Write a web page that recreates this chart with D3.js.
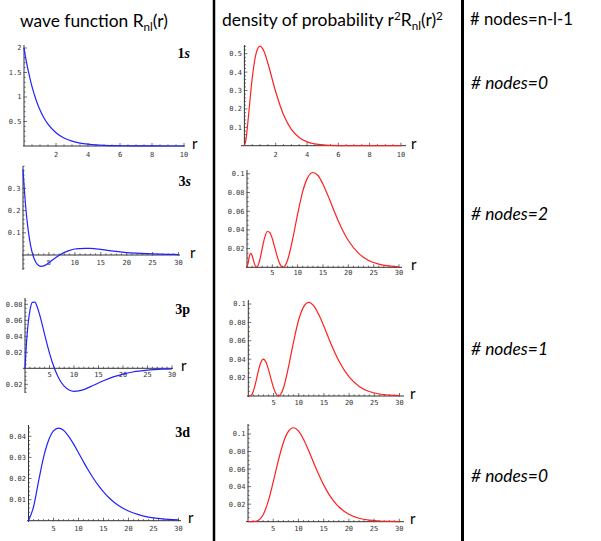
<!DOCTYPE html>
<html><head><meta charset="utf-8">
<script src="https://cdn.jsdelivr.net/npm/d3@7"></script>
<style>body{margin:0;background:#fff;} svg{display:block}</style>
</head><body><svg id="c" width="601" height="541"></svg>
<script>
// ---------- data ----------
const rWave1s = [0,0.1,0.25,0.5,0.75,1,1.25,1.5,2,2.5,3,3.5,4,4.5,5,6,7,8,10];
const wave1s  = [2,1.81,1.558,1.213,0.945,0.736,0.573,0.446,0.271,0.164,0.100,0.060,0.037,0.022,0.013,0.005,0.002,0.001,0];
const rDens1s = [0,0.1,0.25,0.5,0.75,1,1.25,1.5,2,2.5,3,3.5,4,4.5,5,6,7,8,10];
const dens1s  = [0,0.033,0.152,0.368,0.502,0.541,0.513,0.448,0.293,0.168,0.089,0.045,0.021,0.010,0.0045,0.0009,0.0002,0,0];

const rWave3s = [0,0.25,0.5,1,1.5,2,2.5,3,3.5,4,5,6,7,8,9,10,11,12,13,14,16,18,20,22,25,28,30];
const wave3s  = [0.385,0.297,0.223,0.112,0.039,-0.007,-0.034,-0.047,-0.051,-0.049,-0.035,-0.017,-0.001,0.012,0.021,0.027,0.029,0.030,0.030,0.028,0.022,0.016,0.011,0.008,0.005,0.003,0.002];
const rDens3s = [0,0.25,0.5,0.75,1,1.25,1.5,1.9,2.5,3,3.5,4,4.5,5,5.5,6,6.5,7.1,7.5,8,9,10,11,12,13,14,15,16,17,18,19,20,22,24,26,28,30];
const dens3s  = [0,0.0055,0.0125,0.0148,0.0126,0.0080,0.0034,0,0.0073,0.0201,0.0320,0.0383,0.0373,0.0306,0.0208,0.0109,0.0034,0,0.0016,0.0076,0.0299,0.0571,0.0812,0.0962,0.1014,0.0982,0.0889,0.0764,0.0629,0.0498,0.0383,0.0287,0.0151,0.0073,0.0034,0.0015,0.0006];

const rWave3p = [0,0.25,0.5,1,1.5,2,2.5,3,4,5,6,7,8,9,10,11,12,14,16,18,20,22,25,28,30];
const wave3p  = [0,0.0267,0.0469,0.0722,0.0825,0.0828,0.0767,0.0668,0.0425,0.0190,0,-0.0137,-0.0224,-0.0271,-0.0288,-0.0283,-0.0266,-0.0212,-0.0156,-0.0108,-0.0072,-0.0046,-0.0023,-0.0011,-0.0007];
const rDens3p = [0,0.5,1,1.5,2,2.5,3,3.5,4,4.5,5,5.5,6,6.5,7,8,9,10,11,12,13,14,15,16,17,18,20,22,24,26,28,30];
const dens3p  = [0,0.0006,0.0052,0.0153,0.0274,0.0367,0.0401,0.0370,0.0289,0.0187,0.0091,0.0024,0,0.0024,0.0092,0.0322,0.0595,0.0829,0.0972,0.1018,0.0979,0.0882,0.0757,0.0621,0.0492,0.0378,0.0207,0.0104,0.0049,0.0022,0.0010,0.0004];

const rWave3d = [0,1,2,3,4,5,6,7,8,9,10,11,12,13,14,15,16,17,18,20,22,24,26,28,30];
const wave3d  = [0,0.0065,0.0185,0.0299,0.0380,0.0426,0.0439,0.0429,0.0401,0.0364,0.0322,0.0279,0.0238,0.0200,0.0166,0.0137,0.0111,0.0090,0.0072,0.0046,0.0029,0.0017,0.0011,0.0006,0.0004];
const rDens3d = [0,1,2,3,4,5,6,7,8,9,10,11,12,13,14,15,16,17,18,20,22,24,26,28,30];
const dens3d  = [0,0.00004,0.0014,0.0080,0.0231,0.0453,0.0694,0.0900,0.1029,0.1071,0.1036,0.0940,0.0814,0.0675,0.0541,0.0420,0.0318,0.0235,0.0170,0.0084,0.0039,0.0017,0.0008,0.0003,0.0001];

// tick labels
const xTicks10 = [2,4,6,8,10];
const xTicks30 = [5,10,15,20,25,30];
const yTicksW1s = [0.5,1,1.5,2];       const yLabW1s = ["0.5","1","1.5","2"];
const yTicksW3s = [0.1,0.2,0.3];       const yLabW3s = ["0.1","0.2","0.3"];
const yTicksW3p = [-0.02,0.02,0.04,0.06,0.08]; const yLabW3p = ["0.02","0.02","0.04","0.06","0.08"];
const yTicksW3d = [0.01,0.02,0.03,0.04]; const yLabW3d = ["0.01","0.02","0.03","0.04"];
const yTicksD1s = [0.1,0.2,0.3,0.4,0.5]; const yLabD1s = ["0.1","0.2","0.3","0.4","0.5"];
const yTicksD3 = [0.02,0.04,0.06,0.08,0.1]; const yLabD3 = ["0.02","0.04","0.06","0.08","0.1"];

const orbitals = ["1s","3s","3p","3d"];
const headers = ["wave function", "density of probability", "# nodes=n-l-1"];
const nodeLabels = ["# nodes=0","# nodes=2","# nodes=1","# nodes=0"];

// ---------- layout ----------
const BLUE = "#2222ff", RED = "#ff1f1f";
const panels = [
 {r:rWave1s,v:wave1s,c:BLUE,xd:[0,10],xr:[24,184],yd:[0,2],yr:[146,48],yTop:45,yBot:146,xL:23,xR:185,xt:xTicks10,xmin:0.5,yt:yTicksW1s,yl:yLabW1s,ymin:0.1,rl:[192,149],xly:155,name:orbitals[0],np:[190,58],ital:true},
 {r:rWave3s,v:wave3s,c:BLUE,xd:[0,30],xr:[23,178.5],yd:[0,0.3],yr:[255,188.4],yTop:166,yBot:270,xL:22,xR:180,xt:xTicks30,xmin:1,yt:yTicksW3s,yl:yLabW3s,ymin:0.02,rl:[190,258],xly:263,name:orbitals[1],np:[191,186],ital:true},
 {r:rWave3p,v:wave3p,c:BLUE,xd:[0,30],xr:[25,172],yd:[0,0.08],yr:[368.3,304.3],yTop:298,yBot:393,xL:23,xR:173,xt:xTicks30,xmin:1,yt:yTicksW3p,yl:yLabW3p,ymin:0.005,rl:[181,371],xly:375,name:orbitals[2],np:[190,314],ital:false},
 {r:rWave3d,v:wave3d,c:BLUE,xd:[0,30],xr:[28.5,178.5],yd:[0,0.04],yr:[520.7,436.3],yTop:425,yBot:522,xL:27,xR:181,xt:xTicks30,xmin:1,yt:yTicksW3d,yl:yLabW3d,ymin:0.002,rl:[188,523],xly:529,name:orbitals[3],np:[190,437],ital:false},
 {r:rDens1s,v:dens1s,c:RED,xd:[0,10],xr:[244.4,400.9],yd:[0,0.5],yr:[145.7,53.7],yTop:45,yBot:146,xL:241,xR:406,xt:xTicks10,xmin:0.5,yt:yTicksD1s,yl:yLabD1s,ymin:0.02,rl:[411,149],xly:155},
 {r:rDens3s,v:dens3s,c:RED,xd:[0,30],xr:[247,399],yd:[0,0.1],yr:[267.3,173.8],yTop:170,yBot:268,xL:246,xR:402,xt:xTicks30,xmin:1,yt:yTicksD3,yl:yLabD3,ymin:0.005,rl:[411,270],xly:273},
 {r:rDens3p,v:dens3p,c:RED,xd:[0,30],xr:[248.3,399.5],yd:[0,0.1],yr:[396,304],yTop:300,yBot:397,xL:247,xR:404,xt:xTicks30,xmin:1,yt:yTicksD3,yl:yLabD3,ymin:0.005,rl:[410,399],xly:403},
 {r:rDens3d,v:dens3d,c:RED,xd:[0,30],xr:[248,399.3],yd:[0,0.1],yr:[521.7,434],yTop:424,yBot:522,xL:246,xR:404,xt:xTicks30,xmin:1,yt:yTicksD3,yl:yLabD3,ymin:0.005,rl:[410,524],xly:529}
];

const svg = d3.select("#c");
svg.append("rect").attr("width",601).attr("height",541).attr("fill","#fff");

panels.forEach(p => {
  const x = d3.scaleLinear().domain(p.xd).range(p.xr);
  const y = d3.scaleLinear().domain(p.yd).range(p.yr);
  const g = svg.append("g");
  const ax0 = x(0), ay0 = y(0);
  const ax = "#333";
  g.append("line").attr("x1",p.xL).attr("x2",p.xR).attr("y1",ay0).attr("y2",ay0).attr("stroke",ax).attr("stroke-width",1);
  g.append("line").attr("x1",ax0).attr("x2",ax0).attr("y1",p.yTop).attr("y2",p.yBot).attr("stroke",ax).attr("stroke-width",1);
  const xMax = x.invert(p.xR);
  d3.range(p.xmin, xMax, p.xmin).forEach(t => {
    const major = p.xt.some(m => Math.abs(m - t) < 1e-6);
    g.append("line").attr("x1",x(t)).attr("x2",x(t)).attr("y1",ay0+(major?0.5:0)).attr("y2",ay0-(major?3:1.6)).attr("stroke",ax).attr("stroke-width",0.7);
  });
  p.xt.forEach(t => {
    g.append("text").attr("x",x(t)).attr("y",p.xly).attr("dy","0.35em").attr("text-anchor","middle")
     .attr("font-family","DejaVu Sans Mono").attr("font-size",7).attr("fill","#333").text(String(t));
  });
  const yHi = y.invert(p.yTop), yLo = y.invert(p.yBot);
  const ys = [];
  for (let t = p.ymin; t <= yHi + 1e-9; t += p.ymin) ys.push(t);
  for (let t = -p.ymin; t >= yLo - 1e-9; t -= p.ymin) ys.push(t);
  ys.forEach(t => {
    const major = p.yt.some(m => Math.abs(m - t) < p.ymin*0.1);
    g.append("line").attr("x1",ax0-(major?0.5:0)).attr("x2",ax0+(major?3:1.6)).attr("y1",y(t)).attr("y2",y(t)).attr("stroke",ax).attr("stroke-width",0.7);
  });
  p.yt.forEach((t,i) => {
    g.append("text").attr("x",ax0-2.5).attr("y",y(t)).attr("dy","0.35em").attr("text-anchor","end")
     .attr("font-family","DejaVu Sans Mono").attr("font-size",7).attr("fill","#333").text(p.yl[i]);
  });
  const pts = p.r.map((rv,i) => [rv, p.v[i]]);
  const line = d3.line().x(d => x(d[0])).y(d => y(d[1])).curve(d3.curveMonotoneX);
  g.append("path").datum(pts).attr("d",line).attr("fill","none").attr("stroke",p.c).attr("stroke-width",1.2);
  g.append("text").attr("x",p.rl[0]).attr("y",p.rl[1]).attr("font-family","Lato").attr("font-size",15).attr("fill","#000").text("r");
  if (p.name) {
    const t = g.append("text").attr("x",p.np[0]).attr("y",p.np[1]).attr("text-anchor","end")
      .attr("font-family","Liberation Serif").attr("font-weight","bold").attr("font-size",14).attr("fill","#000");
    t.append("tspan").text(p.name[0]);
    t.append("tspan").attr("font-style",p.ital?"italic":"normal").text(p.name.slice(1));
  }
});

// headers: built in a group, then squeezed horizontally to the reference width
const F = "Lato";
function fitGroup(g, x, y, w) {
  const bb = g.node().getBBox();
  g.attr("transform", `translate(${x},${y}) scale(${w / bb.width},1)`);
}
function header(parts, x, y, w, italic) {
  const g = svg.append("g");
  const t = g.append("text").attr("x",0).attr("y",0).attr("font-family",F).attr("font-size",18).attr("fill","#000");
  if (italic) t.attr("font-style","italic");
  parts.forEach(pt => {
    const s = t.append("tspan").text(pt.t);
    if (pt.sz) s.attr("font-size", pt.sz);
    if (pt.dy) s.attr("dy", pt.dy);
  });
  fitGroup(g, x, y, w);
}
header([{t:headers[0] + " R"},{t:"nl",sz:12,dy:4},{t:"(r)",dy:-4}], 20, 27, 148);
header([{t:headers[1] + " r"},{t:"2",sz:12,dy:-6},{t:"R",dy:6},{t:"nl",sz:12,dy:4},{t:"(r)",dy:-4},{t:"2",sz:12,dy:-6}], 222, 26, 221);
header([{t:headers[2]}], 470, 25, 103);
const nodeY = [89,220,355,482];
nodeLabels.forEach((s,i) => header([{t:s}], 471, nodeY[i], 77, true));

// divider lines
svg.append("line").attr("x1",214).attr("x2",214).attr("y1",0).attr("y2",541).attr("stroke","#000").attr("stroke-width",2.5);
svg.append("line").attr("x1",462.5).attr("x2",462.5).attr("y1",0).attr("y2",541).attr("stroke","#000").attr("stroke-width",3);
</script></body></html>
